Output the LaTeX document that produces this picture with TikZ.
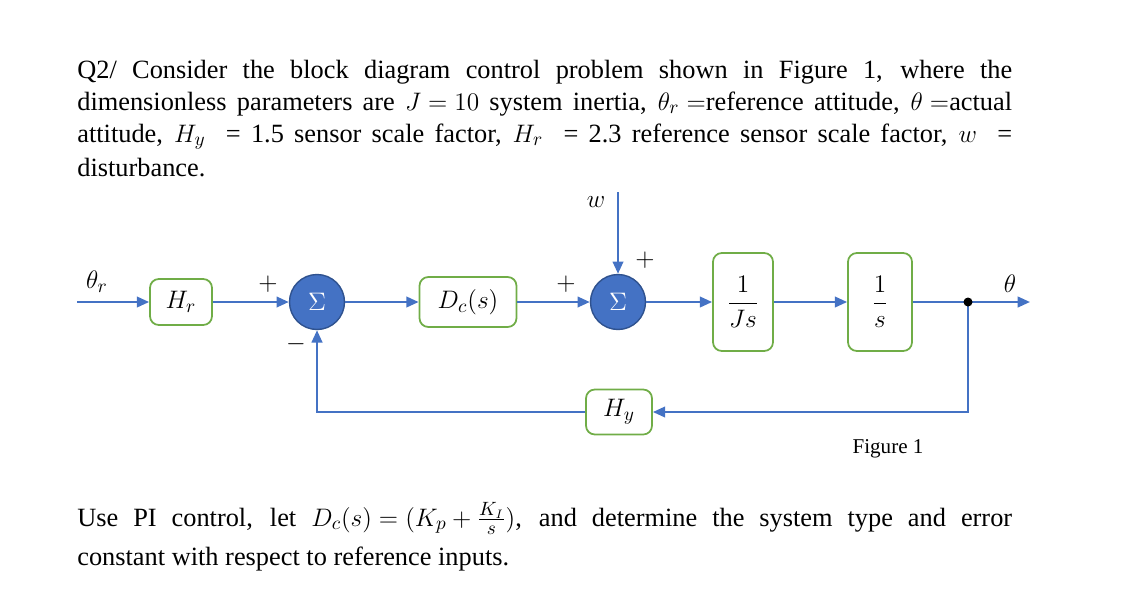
\documentclass[tikz,border=0pt]{standalone}
\usepackage{amsmath}
\usepackage{fontspec}
\setmainfont{Liberation Serif}
\usetikzlibrary{arrows.meta}
\definecolor{lblue}{RGB}{68,114,196}
\definecolor{bgreen}{RGB}{112,173,71}
\definecolor{sumedge}{RGB}{47,82,143}
\newcommand{\jline}[1]{\hbox to 18.7cm{#1}}
\newcommand{\m}[1]{\mbox{$#1$}}
\begin{document}
\begin{tikzpicture}[x=0.02cm,y=-0.02cm,
  blk/.style={draw=bgreen,line width=1pt,rounded corners=5pt,fill=white,minimum width=#1},
  sum/.style={circle,draw=sumedge,line width=0.8pt,fill=lblue,text=white,minimum size=1.1cm,inner sep=0pt},
  sig/.style={draw=lblue,line width=1.3pt,-{Triangle[length=7pt,width=6pt]}},
  lbl/.style={font=\fontsize{15}{18}\selectfont}]
\useasboundingbox (0,0) rectangle (1124,589);
\begin{scope}[every node/.style={lbl,anchor=base west,inner sep=0pt}]
\node at (77,78) {\jline{Q2/ Consider the block diagram control problem shown in Figure 1, where the}};
\node at (77,110) {\jline{dimensionless parameters are \m{J=10} system inertia, \m{\theta_r=}reference attitude, \m{\theta=}actual}};
\node at (77,142) {\jline{attitude, \m{H_y}\ \ = 1.5 sensor scale factor, \m{H_r}\ \ = 2.3 reference sensor scale factor, \m{w}\ \ =}};
\node at (77,176) {disturbance.};
\node at (77,526) {\jline{Use PI control, let \m{D_c(s)=(K_p+\frac{K_I}{s})}, and determine the system type and error}};
\node at (77,565) {constant with respect to reference inputs.};
\end{scope}
\coordinate (in) at (77,302);
\node[lbl] (thr) at (97,282) {$\theta_r$};
\node[blk=1.24cm,minimum height=0.92cm,lbl] (Hr) at (181,302) {$H_r$};
\node[sum,font=\Large] (s1) at (317,302) {$\Sigma$};
\node[blk=1.94cm,minimum height=1cm,lbl] (Dc) at (468,302) {$D_c(s)$};
\node[sum,font=\Large] (s2) at (618,302) {$\Sigma$};
\node[blk=1.2cm,minimum height=1.96cm,lbl] (Js) at (743,302) {$\dfrac{1}{Js}$};
\node[blk=1.28cm,minimum height=1.96cm,lbl] (S) at (880,302) {$\dfrac{1}{s}$};
\node[blk=1.32cm,minimum height=0.9cm,lbl] (Hy) at (619,412) {$H_y$};
\coordinate (w) at (618,192);
\node[lbl] at (596,202) {$w$};
\coordinate (out) at (1030,302);
\node[lbl] at (1010,284) {$\theta$};
\coordinate (tap) at (968,302);
\node[lbl] at (268,284) {$+$};
\node[lbl] at (296,344) {$-$};
\node[lbl] at (566,284) {$+$};
\node[lbl] at (645,260) {$+$};
\node[font=\fontsize{12}{14}\selectfont] at (888,449) {Figure 1};
\draw[sig] (in) -- (Hr);
\draw[sig] (Hr) -- (s1);
\draw[sig] (s1) -- (Dc);
\draw[sig] (Dc) -- (s2);
\draw[sig] (w) -- (s2);
\draw[sig] (s2) -- (Js);
\draw[sig] (Js) -- (S);
\draw[sig] (S) -- (out);
\draw[sig] (tap) |- (Hy);
\draw[sig] (Hy) -| (s1);
\fill (tap) circle (4.5);
\end{tikzpicture}
\end{document}
